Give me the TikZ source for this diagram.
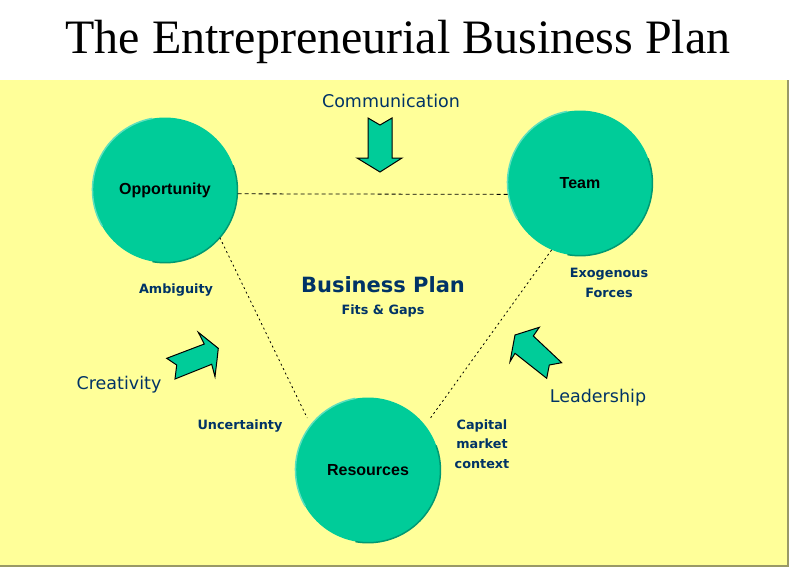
\documentclass[tikz,border=0pt]{standalone}
\usepackage{fontspec}
\setmainfont{DejaVu Sans}
\newfontfamily\titlefont{Liberation Serif}
\newfontfamily\circfont{Liberation Sans}
\usepackage{tikz}
\definecolor{planbg}{HTML}{FFFF99}
\definecolor{planedge}{HTML}{999966}
\definecolor{circ}{HTML}{00CC99}
\definecolor{circdark}{HTML}{009973}
\definecolor{circlight}{HTML}{5CE0BE}
\definecolor{navy}{HTML}{003366}

\begin{document}
\begin{tikzpicture}[x=1pt,y=-1pt,
  circ/.style={circle,fill=circ,minimum size=145pt,inner sep=0pt,font=\circfont\bfseries\fontsize{16}{18}\selectfont},
  lbl/.style={text=navy,align=center,font=\bfseries\fontsize{12.8}{19.5}\selectfont},
  big/.style={text=navy,font=\fontsize{17.5}{20}\selectfont},
  link/.style={line width=0.8pt,dash pattern=on 4pt off 3pt},
  dotlink/.style={line width=0.8pt,dash pattern=on 2pt off 3pt,shorten >=8pt},
  blockarrow/.style={fill=circ,draw=black,line width=1pt,line join=miter}]
\useasboundingbox (0,0) rectangle (790,568);
\fill[white] (0,0) rectangle (790,568);
\fill[planbg] (0,80) rectangle (788,566);
\draw[planedge,line width=1.5pt] (788,80) -- (788,566) -- (0,566);
\node[anchor=base,font=\titlefont\fontsize{48}{56}\selectfont] (title) at (398,53) {The Entrepreneurial Business Plan};

% the three circles
\node[circ] (opp) at (165,190) {Opportunity};
\node[circ] (team) at (580,183) {Team};
\node[circ] (res) at (368,470) {Resources};
\foreach \n in {opp,team,res} {
   \draw[circlight,line width=1.5pt] (\n.100) arc[start angle=100,end angle=210,radius=72.5pt];
   \draw[circdark,line width=1.5pt] (\n.-100) arc[start angle=-100,end angle=20,radius=72.5pt];
}
\draw[link] (opp.-3) -- (team.189);
\draw[dotlink] (opp.-41) -- (res.142);
\draw[dotlink] (team.247) -- (res.38);

% block arrows
\draw[blockarrow] (368,118) -- (380,125) -- (392,118) -- (392,158) -- (402,158)
   -- (380,172) -- (357,158) -- (368,158) -- cycle;
\draw[blockarrow] (166.7,358.3) -- (204.3,344) -- (198.3,332.3) -- (218.3,348.3)
   -- (217,360) -- (215,376.7) -- (211.7,364.3) -- (175,379) -- (176.7,365) -- cycle;
\draw[blockarrow] (515,335) -- (539.3,327.3) -- (533.3,336) -- (561.7,362.7)
   -- (549.3,365) -- (546.7,378.3) -- (515,353.3) -- (510,361.7) -- cycle;

% labels
\node[big] (comm) at (391,101) {Communication};
\node[big] (crea) at (119,385) {Creativity};
\node[big] (lead) at (598,398) {Leadership};
\node[lbl] (amb) at (176,290) {Ambiguity};
\node[lbl] (unc) at (240,426) {Uncertainty};
\node[lbl] (exo) at (609,283) {Exogenous\\Forces};
\node[lbl] (cap) at (482,444) {Capital\\market\\context};
\node[lbl,font=\bfseries\fontsize{21}{24}\selectfont] (bp) at (383,285) {Business Plan};
\node[lbl] (fits) at (383,311) {Fits \& Gaps};
\end{tikzpicture}
\end{document}
